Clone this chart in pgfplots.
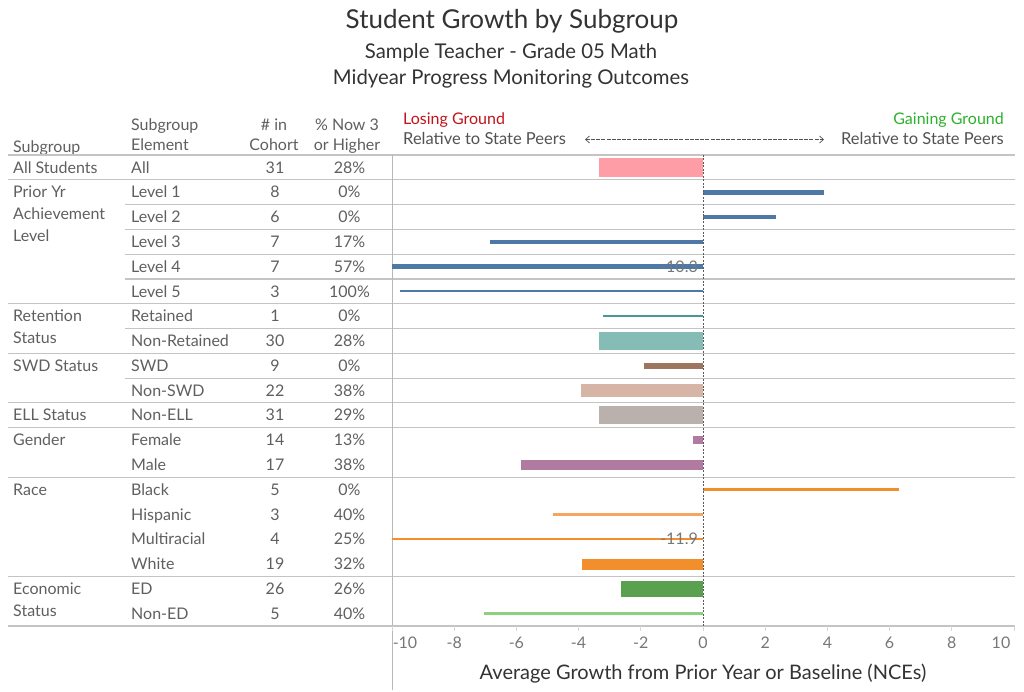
\documentclass[border=0pt]{standalone}
\usepackage{pgfplots}
\pgfplotsset{compat=1.18}
\usepackage{fontspec}
\setmainfont{Lato}
\usetikzlibrary{arrows.meta}
\definecolor{titlec}{HTML}{333333}
\definecolor{tgray}{HTML}{5F5F5F}
\definecolor{linec}{HTML}{C4C4C4}
\definecolor{vlinec}{HTML}{B8B8B8}
\definecolor{lblc}{HTML}{777777}
\definecolor{losec}{HTML}{C0141B}
\definecolor{gainc}{HTML}{2DB02D}
\definecolor{cAll}{HTML}{FF9DA7}
\definecolor{cLev}{HTML}{4E79A7}
\definecolor{cRet}{HTML}{499894}
\definecolor{cNRet}{HTML}{86BCB6}
\definecolor{cSWD}{HTML}{9D7660}
\definecolor{cNSWD}{HTML}{D7B5A6}
\definecolor{cELL}{HTML}{BAB0AC}
\definecolor{cGen}{HTML}{B07AA1}
\definecolor{cRace}{HTML}{F28E2B}
\definecolor{cHisp}{HTML}{F6A55E}
\definecolor{cED}{HTML}{59A14F}
\definecolor{cNED}{HTML}{8CD17D}
\newcommand\fs[1]{\fontsize{#1}{#1}\selectfont}
\def\rs{24.79}
\begin{document}
\begin{tikzpicture}[x=1pt,y=1pt,
  tb/.style={text=tgray,inner sep=0pt,font=\fs{16}}]
\path[use as bounding box] (0,0) rectangle (1024,691);
% titles
\node[anchor=base,text=titlec,inner sep=0pt,font=\fs{26}] at (512,{691-29}) {Student Growth by Subgroup};
\node[anchor=base,text=titlec,inner sep=0pt,font=\fs{20.3}] at (511,{691-59}) {Sample Teacher - Grade 05 Math};
\node[anchor=base,text=titlec,inner sep=0pt,font=\fs{20.3}] at (511,{691-85}) {Midyear Progress Monitoring Outcomes};
% bar header
\node[anchor=base west,text=losec,inner sep=0pt,font=\fs{16}] at (403,{691-124.5}) {Losing Ground};
\node[anchor=base west,text=titlec!85,inner sep=0pt,font=\fs{16.5}] at (403,{691-144.5}) {Relative to State Peers};
\node[anchor=base east,text=gainc,inner sep=0pt,font=\fs{16}] at (1004,{691-124.5}) {Gaining Ground};
\node[anchor=base east,text=titlec!85,inner sep=0pt,font=\fs{16.5}] at (1004,{691-144.5}) {Relative to State Peers};
\draw[draw=titlec!85,line width=0.7pt,dash pattern=on 4pt off 1.2pt,{Straight Barb[length=4pt,width=7pt]}-{Straight Barb[length=4pt,width=7pt]}] (585,{691-139.5}) -- (824,{691-139.5});
% table header
\node[tb,anchor=base west] at (13,{691-152.5}) {Subgroup};
\node[tb,anchor=base west] at (131,{691-130.5}) {Subgroup};
\node[tb,anchor=base west] at (131,{691-150.5}) {Element};
\node[tb,anchor=base] at (274,{691-130.5}) {\# in};
\node[tb,anchor=base] at (274,{691-150.5}) {Cohort};
\node[tb,anchor=base] at (347,{691-130.5}) {\% Now 3};
\node[tb,anchor=base] at (347,{691-150.5}) {or Higher};
% grid lines
\foreach \k in {0,1,6,8,10,11,13,17,19}
  \draw[linec,line width=1.2pt] (8,{691-155-\k*\rs}) -- (1015,{691-155-\k*\rs});
\foreach \k in {2,3,4,5,7,9}
  \draw[linec,line width=1.2pt] (125,{691-155-\k*\rs}) -- (1015,{691-155-\k*\rs});
\draw[vlinec,line width=1pt] (392,1) -- (392,{691-155});
% table body
\foreach \i/\el/\n/\p in {0/All/31/28,1/Level 1/8/0,2/Level 2/6/0,3/Level 3/7/17,4/Level 4/7/57,5/Level 5/3/100,
  6/Retained/1/0,7/Non-Retained/30/28,8/SWD/9/0,9/Non-SWD/22/38,10/Non-ELL/31/29,11/Female/14/13,12/Male/17/38,
  13/Black/5/0,14/Hispanic/3/40,15/Multiracial/4/25,16/White/19/32,17/ED/26/26,18/Non-ED/5/40}{
  \node[tb,anchor=base west] at (131,{691-(155+(\i+0.5)*\rs+5.7)}) {\el};
  \node[tb,anchor=base] at (275,{691-(155+(\i+0.5)*\rs+5.7)}) {\n};
  \node[tb,anchor=base] at (349.5,{691-(155+(\i+0.5)*\rs+5.7)}) {\p\%};
}
\foreach \i/\d/\t in {0/0/All Students,1/0/Prior Yr,1/21.7/Achievement,1/43.4/Level,6/0/Retention,6/21.7/Status,
  8/0/SWD Status,10/0/ELL Status,11/0/Gender,13/0/Race,17/0/Economic,17/21.7/Status}{
  \node[tb,anchor=base west] at (13,{691-(155+(\i+0.5)*\rs+5.7+\d)}) {\t};
}
\begin{axis}[at={(392pt,65pt)},anchor=south west,width=622pt,height=471.01pt,scale only axis,
  xmin=-10,xmax=10,ymin=0,ymax=19,y dir=reverse,
  axis y line=none,axis x line*=bottom,x axis line style={draw=none},
  ytick=\empty,xtick={-10,-8,...,10},
  xticklabels={{\hspace*{26pt}-10},-8,-6,-4,-2,0,2,4,6,8,{10\hspace*{26pt}}},
  tick align=outside,major tick length=5pt,
  major tick style={draw=linec!70,line width=0.8pt},
  xticklabel style={anchor=base,text=lblc,font=\fs{16},yshift=-17.5pt},
  xlabel={Average Growth from Prior Year or Baseline (NCEs)},
  xlabel style={at={(axis description cs:0.5,0)},anchor=base,yshift=-53.5pt,text=titlec,font=\fs{20},inner sep=0pt},
  bar shift=0pt]
\addplot[xbar,bar width=18.7pt,fill=cAll,draw=none] coordinates {(-3.34,0.5)};
\addplot[xbar,bar width=4.7pt,fill=cLev,draw=none] coordinates {(3.90,1.5)};
\addplot[xbar,bar width=4.0pt,fill=cLev,draw=none] coordinates {(2.36,2.5)};
\addplot[xbar,bar width=4.3pt,fill=cLev,draw=none] coordinates {(-6.84,3.5)};
\addplot[xbar,bar width=4.3pt,fill=cLev,draw=none] coordinates {(-10.3,4.5)};
\addplot[xbar,bar width=2.0pt,fill=cLev,draw=none] coordinates {(-9.74,5.5)};
\addplot[xbar,bar width=1.6pt,fill=cRet,draw=none] coordinates {(-3.21,6.5)};
\addplot[xbar,bar width=18.0pt,fill=cNRet,draw=none] coordinates {(-3.33,7.5)};
\addplot[xbar,bar width=5.7pt,fill=cSWD,draw=none] coordinates {(-1.89,8.5)};
\addplot[xbar,bar width=13.4pt,fill=cNSWD,draw=none] coordinates {(-3.93,9.5)};
\addplot[xbar,bar width=18.4pt,fill=cELL,draw=none] coordinates {(-3.34,10.5)};
\addplot[xbar,bar width=8.7pt,fill=cGen,draw=none] coordinates {(-0.33,11.5)};
\addplot[xbar,bar width=9.4pt,fill=cGen,draw=none] coordinates {(-5.84,12.5)};
\addplot[xbar,bar width=3.3pt,fill=cRace,draw=none] coordinates {(6.30,13.5)};
\addplot[xbar,bar width=2.3pt,fill=cHisp,draw=none] coordinates {(-4.81,14.5)};
\addplot[xbar,bar width=2.3pt,fill=cRace,draw=none] coordinates {(-11.9,15.5)};
\addplot[xbar,bar width=11.0pt,fill=cRace,draw=none] coordinates {(-3.88,16.5)};
\addplot[xbar,bar width=15.8pt,fill=cED,draw=none] coordinates {(-2.65,17.5)};
\addplot[xbar,bar width=2.7pt,fill=cNED,draw=none] coordinates {(-7.04,18.5)};
\draw[titlec!80,line width=0.9pt,dash pattern=on 2pt off 1.5pt] (axis cs:0,0) -- (axis cs:0,19);
\node[anchor=base east,text=lblc,inner sep=0pt,font=\fs{16},xshift=-5pt,yshift=-5.7pt] at (axis cs:0,4.5) {-10.3};
\node[anchor=base east,text=lblc,inner sep=0pt,font=\fs{16},xshift=-5pt,yshift=-5.7pt] at (axis cs:0,15.5) {-11.9};
\end{axis}
\end{tikzpicture}
\end{document}
